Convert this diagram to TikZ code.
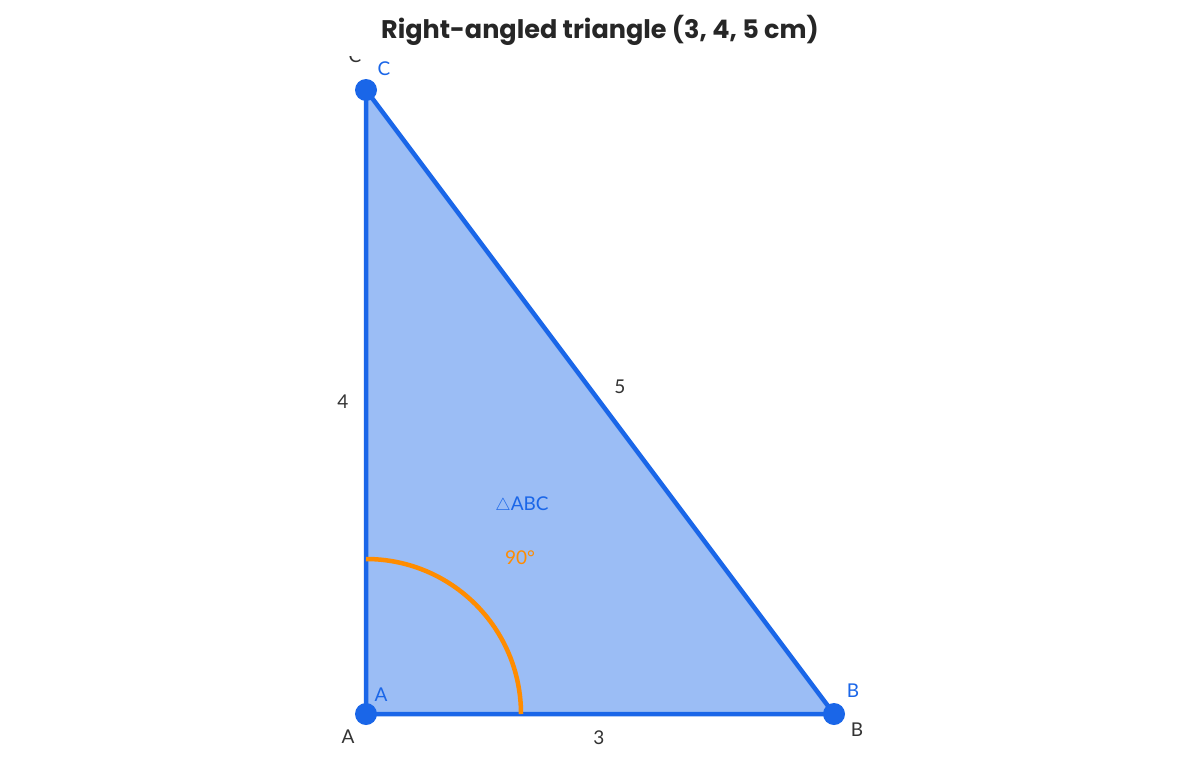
\documentclass[tikz,border=0pt]{standalone}
\usepackage{fontspec}
\setmainfont{Lato}
\newfontfamily\titlefont{Poppins}
\definecolor{edgeblue}{HTML}{1A66E8}
\definecolor{fillblue}{HTML}{9BBDF5}
\definecolor{arcorange}{HTML}{FF8C00}
\definecolor{labgray}{HTML}{333333}
\begin{document}
\begin{tikzpicture}[x=1pt,y=-1pt,
  edge/.style={draw=edgeblue,line width=4.5pt},
  vdot/.style={circle,fill=edgeblue,inner sep=0pt,minimum size=22pt},
  bluelab/.style={text=edgeblue,font=\fontsize{19}{19}\selectfont,inner sep=0pt},
  graylab/.style={text=labgray,font=\fontsize{19}{19}\selectfont,inner sep=0pt}]
\useasboundingbox (0,0) rectangle (1200,763);
\fill[white] (0,0) rectangle (1200,763);
\coordinate (A) at (366,714);
\coordinate (B) at (834,714);
\coordinate (C) at (366,90);
\node[graylab] (Cblack) at (355,56) {C};
\fill[white] (300,0) rectangle (420,56);
\node[font=\titlefont\bfseries\fontsize{25.5}{26}\selectfont,text=black!85] (title) at (600,30) {Right-angled triangle (3, 4, 5 cm)};
\fill[fillblue] (A) -- (B) -- (C) -- cycle;
\draw[edge,line join=round] (A) -- (B) -- (C) -- cycle;
\draw[arcorange,line width=4.5pt] (521,714) arc[start angle=0,end angle=-90,radius=155];
\node[vdot] (Adot) at (A) {};
\node[vdot] (Bdot) at (B) {};
\node[vdot] (Cdot) at (C) {};
\node[bluelab] (Cblue) at (384,69) {C};
\node[bluelab] (Ablue) at (381,695) {A};
\node[bluelab] (Bblue) at (853,691) {B};
\node[graylab] (Ablack) at (348,737) {A};
\node[graylab] (Bblack) at (857,730) {B};
\node[graylab] (l4) at (343,402) {4};
\node[graylab] (l5) at (620,387) {5};
\node[graylab] (l3) at (599,738) {3};
\node[bluelab] (tri) at (522,505) {$\bigtriangleup$ABC};
\node[text=arcorange,font=\fontsize{19}{19}\selectfont,inner sep=0pt] (ang) at (520,558) {90°};
\end{tikzpicture}
\end{document}
